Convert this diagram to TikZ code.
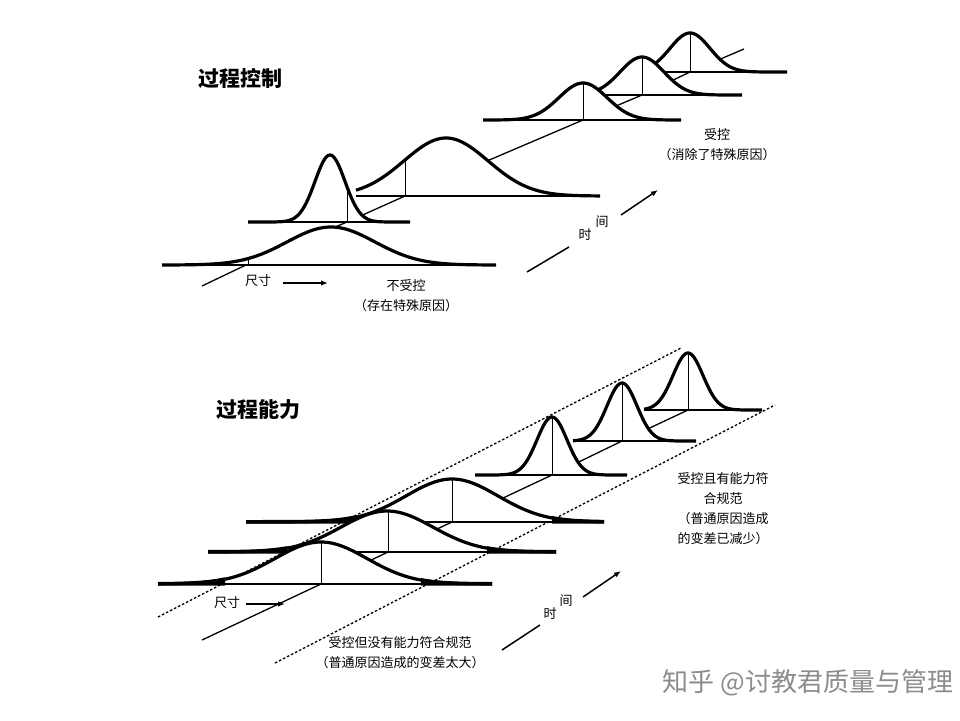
\documentclass[tikz,border=0pt]{standalone}
\usepackage{fontspec}
\newfontfamily\cjk{Noto Sans CJK SC}
\usetikzlibrary{arrows.meta}
\begin{document}
\begin{tikzpicture}[x=1pt,y=-1pt,
  curvel/.style={line width=3.2pt,line join=round},
  basel/.style={line width=2.4pt},
  vert/.style={line width=0.9pt},
  axisl/.style={line width=1.3pt},
  dotl/.style={line width=1.3pt,dash pattern=on 2.5pt off 2pt},
  lbl/.style={font=\cjk\fontsize{13}{15}\selectfont,inner sep=0pt,align=center},
  ttl/.style={font=\cjk\bfseries\fontsize{21}{24}\selectfont,inner sep=0pt},
  arr/.style={line width=1.5pt,-{Latex[length=7pt,width=5.5pt]}}]
\useasboundingbox (0,0) rectangle (960,720);
\fill[white] (0,0) rectangle (960,720);
\newcommand{\bellcurve}[7]{%
 \fill[white] (#5,#2) -- plot[domain=#5:#6,samples=120] (\x,{#2-#3*exp(-((\x-#1)/#4)^2/2)}) -- (#6,#2) -- cycle;
 \draw[basel] (#5,#2) -- (#6,#2);
 \draw[vert] (#7,#2) -- (#7,{#2-#3*exp(-((#7-#1)/#4)^2/2)});
 \draw[curvel] plot[domain=#5:#6,samples=120] (\x,{#2-#3*exp(-((\x-#1)/#4)^2/2)});
}
\newcommand{\belltails}[8]{%
 \fill (#5,#2+1.5) -- plot[domain=#5:#6,samples=40] (\x,{#2-#3*exp(-((\x-#1)/#4)^2/2)-2}) -- (#6,#2+1.5) -- cycle;
 \fill (#7,#2+1.5) -- plot[domain=#7:#8,samples=40] (\x,{#2-#3*exp(-((\x-#1)/#4)^2/2)-2}) -- (#8,#2+1.5) -- cycle;
}
% ---------- top: process control ----------
\node[ttl] (t1) at (240,78) {过程控制};
\coordinate (a0) at (202,286);
\coordinate (fa) at (248,264);
\coordinate (fb) at (347,222);
\coordinate (fc) at (405,196);
\coordinate (fd) at (583,120);
\coordinate (fe) at (642,95);
\coordinate (ff) at (690,72);
\coordinate (fz) at (744,49);
\draw[axisl] (a0) -- (fa) -- (fb) -- (fc) -- (fd) -- (fe) -- (ff) -- (fz);
\bellcurve{690}{72}{39}{20}{633}{787}{690}
\bellcurve{642}{95}{38}{22}{578}{742}{642}
\bellcurve{583}{120}{37}{24}{483}{681}{583}
\bellcurve{446}{196}{58}{42}{356}{600}{405}
\bellcurve{330}{222}{67}{15}{248}{410}{347}
\bellcurve{331}{265}{38}{44}{162}{496}{248}
\node[lbl] (l1) at (258,281) {尺寸};
\coordinate (s1a) at (283,283);
\coordinate (s1b) at (328,283);
\draw[arr] (s1a) -- (s1b);
\node[lbl] (l2) at (406,286) {不受控};
\node[lbl] (l3) at (406,306) {（存在特殊原因）};
\node[lbl] (l4) at (717,135) {受控};
\node[lbl] (l5) at (717,155) {（消除了特殊原因）};
\coordinate (t1a) at (527,272);
\coordinate (t1b) at (569,247);
\draw[axisl,line width=1.5pt] (t1a) -- (t1b);
\node[lbl] (l6) at (585,235) {时};
\node[lbl] (l7) at (602,222) {间};
\coordinate (t1c) at (621,215);
\coordinate (t1d) at (658,190);
\draw[arr] (t1c) -- (t1d);
% ---------- bottom: process capability ----------
\node[ttl] (t2) at (258,410) {过程能力};
\coordinate (d1a) at (158,617);
\coordinate (d1b) at (681,348);
\coordinate (d2a) at (275,663);
\coordinate (d2b) at (775,405);
\draw[dotl] (d1a) -- (d1b);
\draw[dotl] (d2a) -- (d2b);
\coordinate (b0) at (202,640);
\coordinate (g1) at (321,584);
\coordinate (g2) at (388,552);
\coordinate (g3) at (452,522);
\coordinate (h1) at (552,475);
\coordinate (h2) at (622,441);
\coordinate (h3) at (688,410);
\draw[axisl] (b0) -- (g1) -- (g2) -- (g3) -- (h1) -- (h2) -- (h3);
\bellcurve{688}{410}{57}{15}{644}{762}{688}
\bellcurve{622}{441}{58}{15}{573}{696}{622}
\bellcurve{552}{475}{58}{15}{475}{627}{552}
\bellcurve{452}{522}{43}{46}{246}{604}{452}
\belltails{452}{522}{43}{46}{246}{354}{552}{604}
\bellcurve{387}{552}{41}{46}{208}{556}{388}
\belltails{387}{552}{41}{46}{208}{287}{487}{556}
\bellcurve{321}{584}{42}{46}{158}{492}{321}
\belltails{321}{584}{42}{46}{158}{225}{421}{492}
\node[lbl] (m1) at (227,603) {尺寸};
\coordinate (s2a) at (246,604);
\coordinate (s2b) at (285,604);
\draw[arr] (s2a) -- (s2b);
\node[lbl] (m2) at (400,643) {受控但没有能力符合规范};
\node[lbl] (m3) at (400,663) {（普通原因造成的变差太大）};
\node[lbl] (m4) at (723,479) {受控且有能力符};
\node[lbl] (m5) at (723,499) {合规范};
\node[lbl] (m6) at (723,519) {（普通原因造成};
\node[lbl] (m7) at (723,539) {的变差已减少）};
\coordinate (t2a) at (502,650);
\coordinate (t2b) at (540,625);
\draw[axisl,line width=1.5pt] (t2a) -- (t2b);
\node[lbl] (m8) at (550,614) {时};
\node[lbl] (m9) at (566,601) {间};
\coordinate (t2c) at (583,597);
\coordinate (t2d) at (621,571);
\draw[arr] (t2c) -- (t2d);
\node[font=\cjk\fontsize{26}{30}\selectfont,text=black!45,inner sep=0pt] (wm) at (808,683) {知乎 @讨教君质量与管理};
\end{tikzpicture}
\end{document}
